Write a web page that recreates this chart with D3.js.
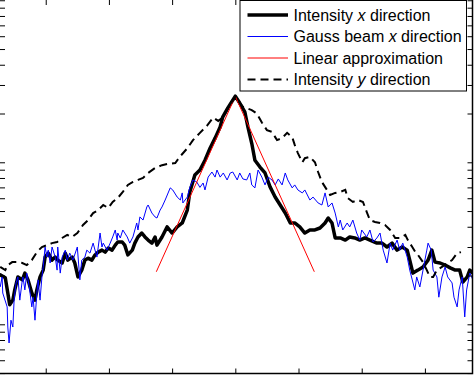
<!DOCTYPE html>
<html>
<head>
<meta charset="utf-8">
<script src="https://cdn.jsdelivr.net/npm/d3@7"></script>
<style>
  html, body { margin: 0; padding: 0; background: #fff; }
  svg { display: block; }
  text { font-family: Arial, "Liberation Sans", Helvetica, sans-serif; }
</style>
</head>
<body>
<svg id="chart" width="474" height="375"></svg>
<script>
// ---------- data (x in axis units, intensity in arbitrary units, log scale) ----------
const xTicks = [-3, -2, -1, 0, 1, 2, 3];

const legendLabels = [
  { pre: "Intensity ", it: "x", post: " direction" },
  { pre: "Gauss beam ", it: "x", post: " direction" },
  { pre: "Linear approximation", it: "", post: "" },
  { pre: "Intensity ", it: "y", post: " direction" }
];

const intensityX = [
  [-3.72,2.02],[-3.64,1.94],[-3.60,1.56],[-3.57,1.32],[-3.52,1.41],[-3.49,1.63],[-3.44,1.96],[-3.37,1.88],
  [-3.33,2.07],[-3.28,1.88],[-3.22,1.56],[-3.17,1.41],[-3.14,1.63],[-3.09,1.96],[-3.04,2.16],[-3.01,2.60],
  [-2.96,2.75],[-2.90,2.49],[-2.85,2.60],[-2.81,2.49],[-2.74,2.39],[-2.69,2.75],[-2.65,2.49],[-2.58,2.60],
  [-2.54,2.39],[-2.49,1.96],[-2.43,2.16],[-2.38,2.49],[-2.33,2.56],[-2.27,2.49],[-2.22,2.68],[-2.17,2.79],
  [-2.11,2.87],[-2.06,2.79],[-2.01,2.96],[-1.95,2.87],[-1.90,3.08],[-1.86,3.22],[-1.79,3.22],[-1.75,3.08],
  [-1.70,2.68],[-1.63,2.87],[-1.59,3.17],[-1.54,3.46],[-1.48,3.66],[-1.43,3.46],[-1.38,3.31],[-1.32,3.17],
  [-1.27,3.46],[-1.24,3.08],[-1.16,3.46],[-1.08,3.99],[-1.00,3.66],[-0.92,3.99],[-0.84,4.22],[-0.76,5.07],
  [-0.72,6.56],[-0.64,8.35],[-0.56,8.96],[-0.48,10.3],[-0.40,12.2],[-0.32,14.1],[-0.24,16.5],[-0.20,19.0],
  [-0.12,21.6],[0.00,25.6],[0.07,23.2],[0.15,20.5],[0.20,16.5],[0.26,13.1],[0.31,10.3],[0.39,9.35],
  [0.47,8.59],[0.55,7.05],[0.63,6.10],[0.71,5.45],[0.79,4.86],[0.87,4.22],[0.94,4.22],[1.02,3.99],
  [1.10,3.66],[1.18,3.82],[1.26,3.82],[1.34,3.93],[1.42,4.22],[1.47,4.53],[1.53,4.22],[1.58,3.41],
  [1.66,3.41],[1.74,3.31],[1.81,3.46],[1.89,3.41],[1.97,3.31],[2.05,3.41],[2.13,3.31],[2.24,3.17],
  [2.32,3.17],[2.40,3.00],[2.48,3.17],[2.56,2.87],[2.64,3.00],[2.72,2.87],[2.76,2.49],[2.81,2.07],
  [2.89,2.16],[2.97,2.26],[3.05,2.49],[3.11,2.87],[3.16,2.42],[3.24,2.39],[3.32,2.32],[3.40,2.23],
  [3.48,2.16],[3.55,2.16],[3.60,1.82],[3.67,1.96],[3.71,2.16],[3.76,2.07]
];

const gaussX = [
  [-3.72,1.70],[-3.69,1.96],[-3.68,1.56],[-3.61,1.28],[-3.60,0.962],[-3.58,0.767],[-3.55,1.06],[-3.52,0.962],
  [-3.50,1.41],[-3.47,1.80],[-3.44,1.96],[-3.41,1.41],[-3.37,1.88],[-3.36,1.96],[-3.33,1.63],[-3.30,2.07],
  [-3.26,1.70],[-3.22,1.28],[-3.20,1.47],[-3.17,1.06],[-3.14,1.56],[-3.12,1.88],[-3.09,1.41],[-3.06,1.96],
  [-3.04,2.26],[-3.01,3.00],[-2.98,2.60],[-2.96,2.87],[-2.93,2.39],[-2.90,3.00],[-2.85,2.60],[-2.82,2.16],
  [-2.81,3.00],[-2.77,2.07],[-2.74,2.60],[-2.69,2.87],[-2.66,2.49],[-2.62,2.75],[-2.57,2.49],[-2.50,3.00],
  [-2.46,1.88],[-2.43,2.49],[-2.38,2.60],[-2.35,2.87],[-2.30,2.75],[-2.25,3.17],[-2.19,2.60],[-2.14,3.66],
  [-2.11,3.00],[-2.09,3.17],[-2.03,2.87],[-1.98,3.17],[-1.94,3.46],[-1.90,3.82],[-1.87,3.31],[-1.86,3.66],
  [-1.82,3.41],[-1.78,3.82],[-1.71,3.46],[-1.67,3.17],[-1.62,3.46],[-1.59,3.82],[-1.56,4.22],[-1.54,3.82],
  [-1.51,4.60],[-1.46,4.40],[-1.40,5.30],[-1.38,5.45],[-1.32,4.86],[-1.27,4.60],[-1.24,4.53],[-1.19,5.07],
  [-1.16,5.30],[-1.11,5.85],[-1.03,6.95],[-0.99,6.75],[-0.92,6.10],[-0.87,5.85],[-0.84,6.47],[-0.83,5.61],
  [-0.76,6.10],[-0.72,7.00],[-0.67,7.78],[-0.61,7.56],[-0.56,7.00],[-0.51,7.45],[-0.48,6.75],[-0.43,8.10],
  [-0.37,8.71],[-0.32,8.10],[-0.29,8.96],[-0.24,8.10],[-0.19,8.59],[-0.13,7.78],[-0.08,8.59],[-0.04,8.71],
  [0.03,7.78],[0.07,8.59],[0.12,7.89],[0.18,7.78],[0.23,8.59],[0.26,7.25],[0.31,6.95],[0.36,8.96],
  [0.42,8.10],[0.47,7.25],[0.52,8.10],[0.58,7.78],[0.63,7.25],[0.68,7.89],[0.74,7.25],[0.79,8.59],
  [0.83,7.78],[0.90,6.95],[0.94,7.25],[0.99,6.75],[1.06,6.47],[1.10,6.75],[1.18,5.85],[1.23,6.10],
  [1.31,5.61],[1.37,5.45],[1.42,6.47],[1.47,5.30],[1.53,5.61],[1.58,4.86],[1.63,3.99],[1.66,4.40],
  [1.70,3.82],[1.77,4.22],[1.81,3.99],[1.86,4.40],[1.92,3.66],[1.97,3.31],[2.00,3.82],[2.08,3.46],
  [2.13,3.82],[2.18,3.22],[2.24,3.41],[2.29,3.66],[2.34,2.87],[2.40,2.39],[2.45,3.17],[2.49,2.87],
  [2.56,3.31],[2.60,2.87],[2.65,3.17],[2.72,2.60],[2.76,2.16],[2.80,1.88],[2.84,1.63],[2.87,1.96],
  [2.92,1.70],[2.97,2.16],[3.03,2.87],[3.05,3.17],[3.10,2.87],[3.13,2.16],[3.19,1.96],[3.22,1.47],
  [3.27,1.96],[3.32,2.26],[3.36,1.96],[3.43,1.80],[3.46,1.47],[3.51,1.28],[3.54,1.63],[3.59,1.96],
  [3.63,1.11],[3.66,1.63],[3.71,2.07],[3.76,1.88]
];

const linearApprox = [[-1.25,2.11],[0.00,25.5],[1.25,2.11]];

const intensityY = [
  [-3.72,2.26],[-3.64,2.16],[-3.60,2.32],[-3.53,2.42],[-3.45,2.42],[-3.37,2.39],[-3.30,2.32],[-3.22,2.49],
  [-3.14,2.79],[-3.06,3.00],[-2.98,3.08],[-2.90,3.17],[-2.82,3.22],[-2.74,3.41],[-2.66,3.56],[-2.58,3.46],
  [-2.50,3.66],[-2.41,4.10],[-2.33,4.40],[-2.25,4.86],[-2.17,5.07],[-2.09,5.45],[-2.01,5.22],[-1.94,5.69],
  [-1.86,6.02],[-1.78,6.56],[-1.70,7.25],[-1.62,7.56],[-1.54,7.78],[-1.46,8.00],[-1.38,8.59],[-1.27,9.22],
  [-1.16,9.60],[-1.07,9.77],[-0.95,9.90],[-0.87,10.9],[-0.76,12.2],[-0.67,13.7],[-0.56,15.2],[-0.45,16.8],
  [-0.35,18.9],[-0.27,18.0],[-0.19,19.0],[-0.12,21.6],[0.00,25.3],[0.12,22.0],[0.26,21.0],[0.34,20.0],
  [0.42,17.6],[0.50,15.8],[0.58,15.4],[0.66,13.7],[0.74,14.1],[0.82,15.2],[0.90,14.3],[0.94,12.8],
  [0.99,11.4],[1.06,10.0],[1.10,10.6],[1.18,10.8],[1.26,10.0],[1.31,8.71],[1.37,7.56],[1.45,6.75],
  [1.50,6.29],[1.58,6.47],[1.66,6.56],[1.74,6.75],[1.78,6.02],[1.86,5.69],[1.94,5.85],[2.02,5.69],
  [2.08,4.93],[2.13,4.40],[2.21,4.28],[2.29,4.22],[2.37,4.10],[2.45,3.82],[2.53,3.41],[2.61,3.41],
  [2.69,3.56],[2.73,3.31],[2.80,3.00],[2.85,2.79],[2.89,2.68],[2.97,2.42],[3.03,2.16],[3.08,1.96],
  [3.13,1.96],[3.19,2.16],[3.27,2.26],[3.35,2.39],[3.43,2.49],[3.51,2.75],[3.57,2.79]
];

// ---------- layout ----------
const svg = d3.select("#chart");
const pLeft = -2.5, pRight = 472.5, pTop = -2.5, pBottom = 373.5;

const x = d3.scaleLinear().domain([-3.763, 3.753]).range([pLeft, pRight]);
const y = d3.scaleLog().domain([0.497, 104]).range([pBottom, pTop]);

svg.append("defs").append("clipPath").attr("id", "clip")
  .append("rect").attr("x", pLeft).attr("y", pTop)
  .attr("width", pRight - pLeft).attr("height", pBottom - pTop);

const plot = svg.append("g").attr("clip-path", "url(#clip)");

const line = d3.line().x(d => x(d[0])).y(d => y(d[1]));

plot.append("path").datum(intensityX).attr("d", line)
  .attr("fill", "none").attr("stroke", "#000").attr("stroke-width", 3.5)
  .attr("stroke-linejoin", "round").attr("stroke-linecap", "round");

plot.append("path").datum(gaussX).attr("d", line)
  .attr("fill", "none").attr("stroke", "#0000ff").attr("stroke-width", 1)
  .attr("stroke-linejoin", "round");

plot.append("path").datum(linearApprox).attr("d", line)
  .attr("fill", "none").attr("stroke", "#ff0000").attr("stroke-width", 1);

plot.append("path").datum(intensityY).attr("d", line)
  .attr("fill", "none").attr("stroke", "#000").attr("stroke-width", 2)
  .attr("stroke-dasharray", "8,5");

// ---------- axes (ticks only, no labels) ----------
const yTicks = y.ticks();
function styleAxis(g) {
  g.select(".domain").remove();
  g.selectAll(".tick line").attr("stroke", "#000").attr("stroke-width", 1);
  g.selectAll(".tick text").remove();
}
svg.append("g").attr("transform", `translate(0,${pBottom})`)
  .call(d3.axisBottom(x).tickValues(xTicks).tickSize(-5).tickFormat("")).call(styleAxis);
svg.append("g").attr("transform", `translate(0,${pTop})`)
  .call(d3.axisTop(x).tickValues(xTicks).tickSize(-7.5).tickFormat("")).call(styleAxis);
svg.append("g").attr("transform", `translate(${pLeft},0)`)
  .call(d3.axisLeft(y).tickValues(yTicks).tickSize(-7.5).tickFormat("")).call(styleAxis);
svg.append("g").attr("transform", `translate(${pRight},0)`)
  .call(d3.axisRight(y).tickValues(yTicks).tickSize(-5).tickFormat("")).call(styleAxis);

svg.append("rect").attr("x", pLeft).attr("y", pTop)
  .attr("width", pRight - pLeft).attr("height", pBottom - pTop)
  .attr("fill", "none").attr("stroke", "#000").attr("stroke-width", 1.5);

// ---------- legend ----------
const legStyles = [
  { stroke: "#000", width: 3.5, dash: null },
  { stroke: "#0000ff", width: 1, dash: null },
  { stroke: "#ff0000", width: 1, dash: null },
  { stroke: "#000", width: 2, dash: "8,5" }
];
const leg = svg.append("g");
leg.append("rect").attr("x", 240).attr("y", 0.5).attr("width", 226.5).attr("height", 90.5)
  .attr("fill", "#fff").attr("stroke", "#000").attr("stroke-width", 1);

legendLabels.forEach((lab, i) => {
  const cy = 15 + i * 21.5;
  const st = legStyles[i];
  const l = leg.append("line").attr("x1", 247.5).attr("x2", 288).attr("y1", cy).attr("y2", cy)
    .attr("stroke", st.stroke).attr("stroke-width", st.width);
  if (st.dash) l.attr("stroke-dasharray", st.dash);
  const t = leg.append("text").attr("x", 293.5).attr("y", cy + 5.8)
    .attr("font-size", 16).attr("fill", "#000");
  t.append("tspan").text(lab.pre);
  if (lab.it) {
    t.append("tspan").attr("font-style", "italic").text(lab.it);
    t.append("tspan").text(lab.post);
  }
});
</script>
</body>
</html>
